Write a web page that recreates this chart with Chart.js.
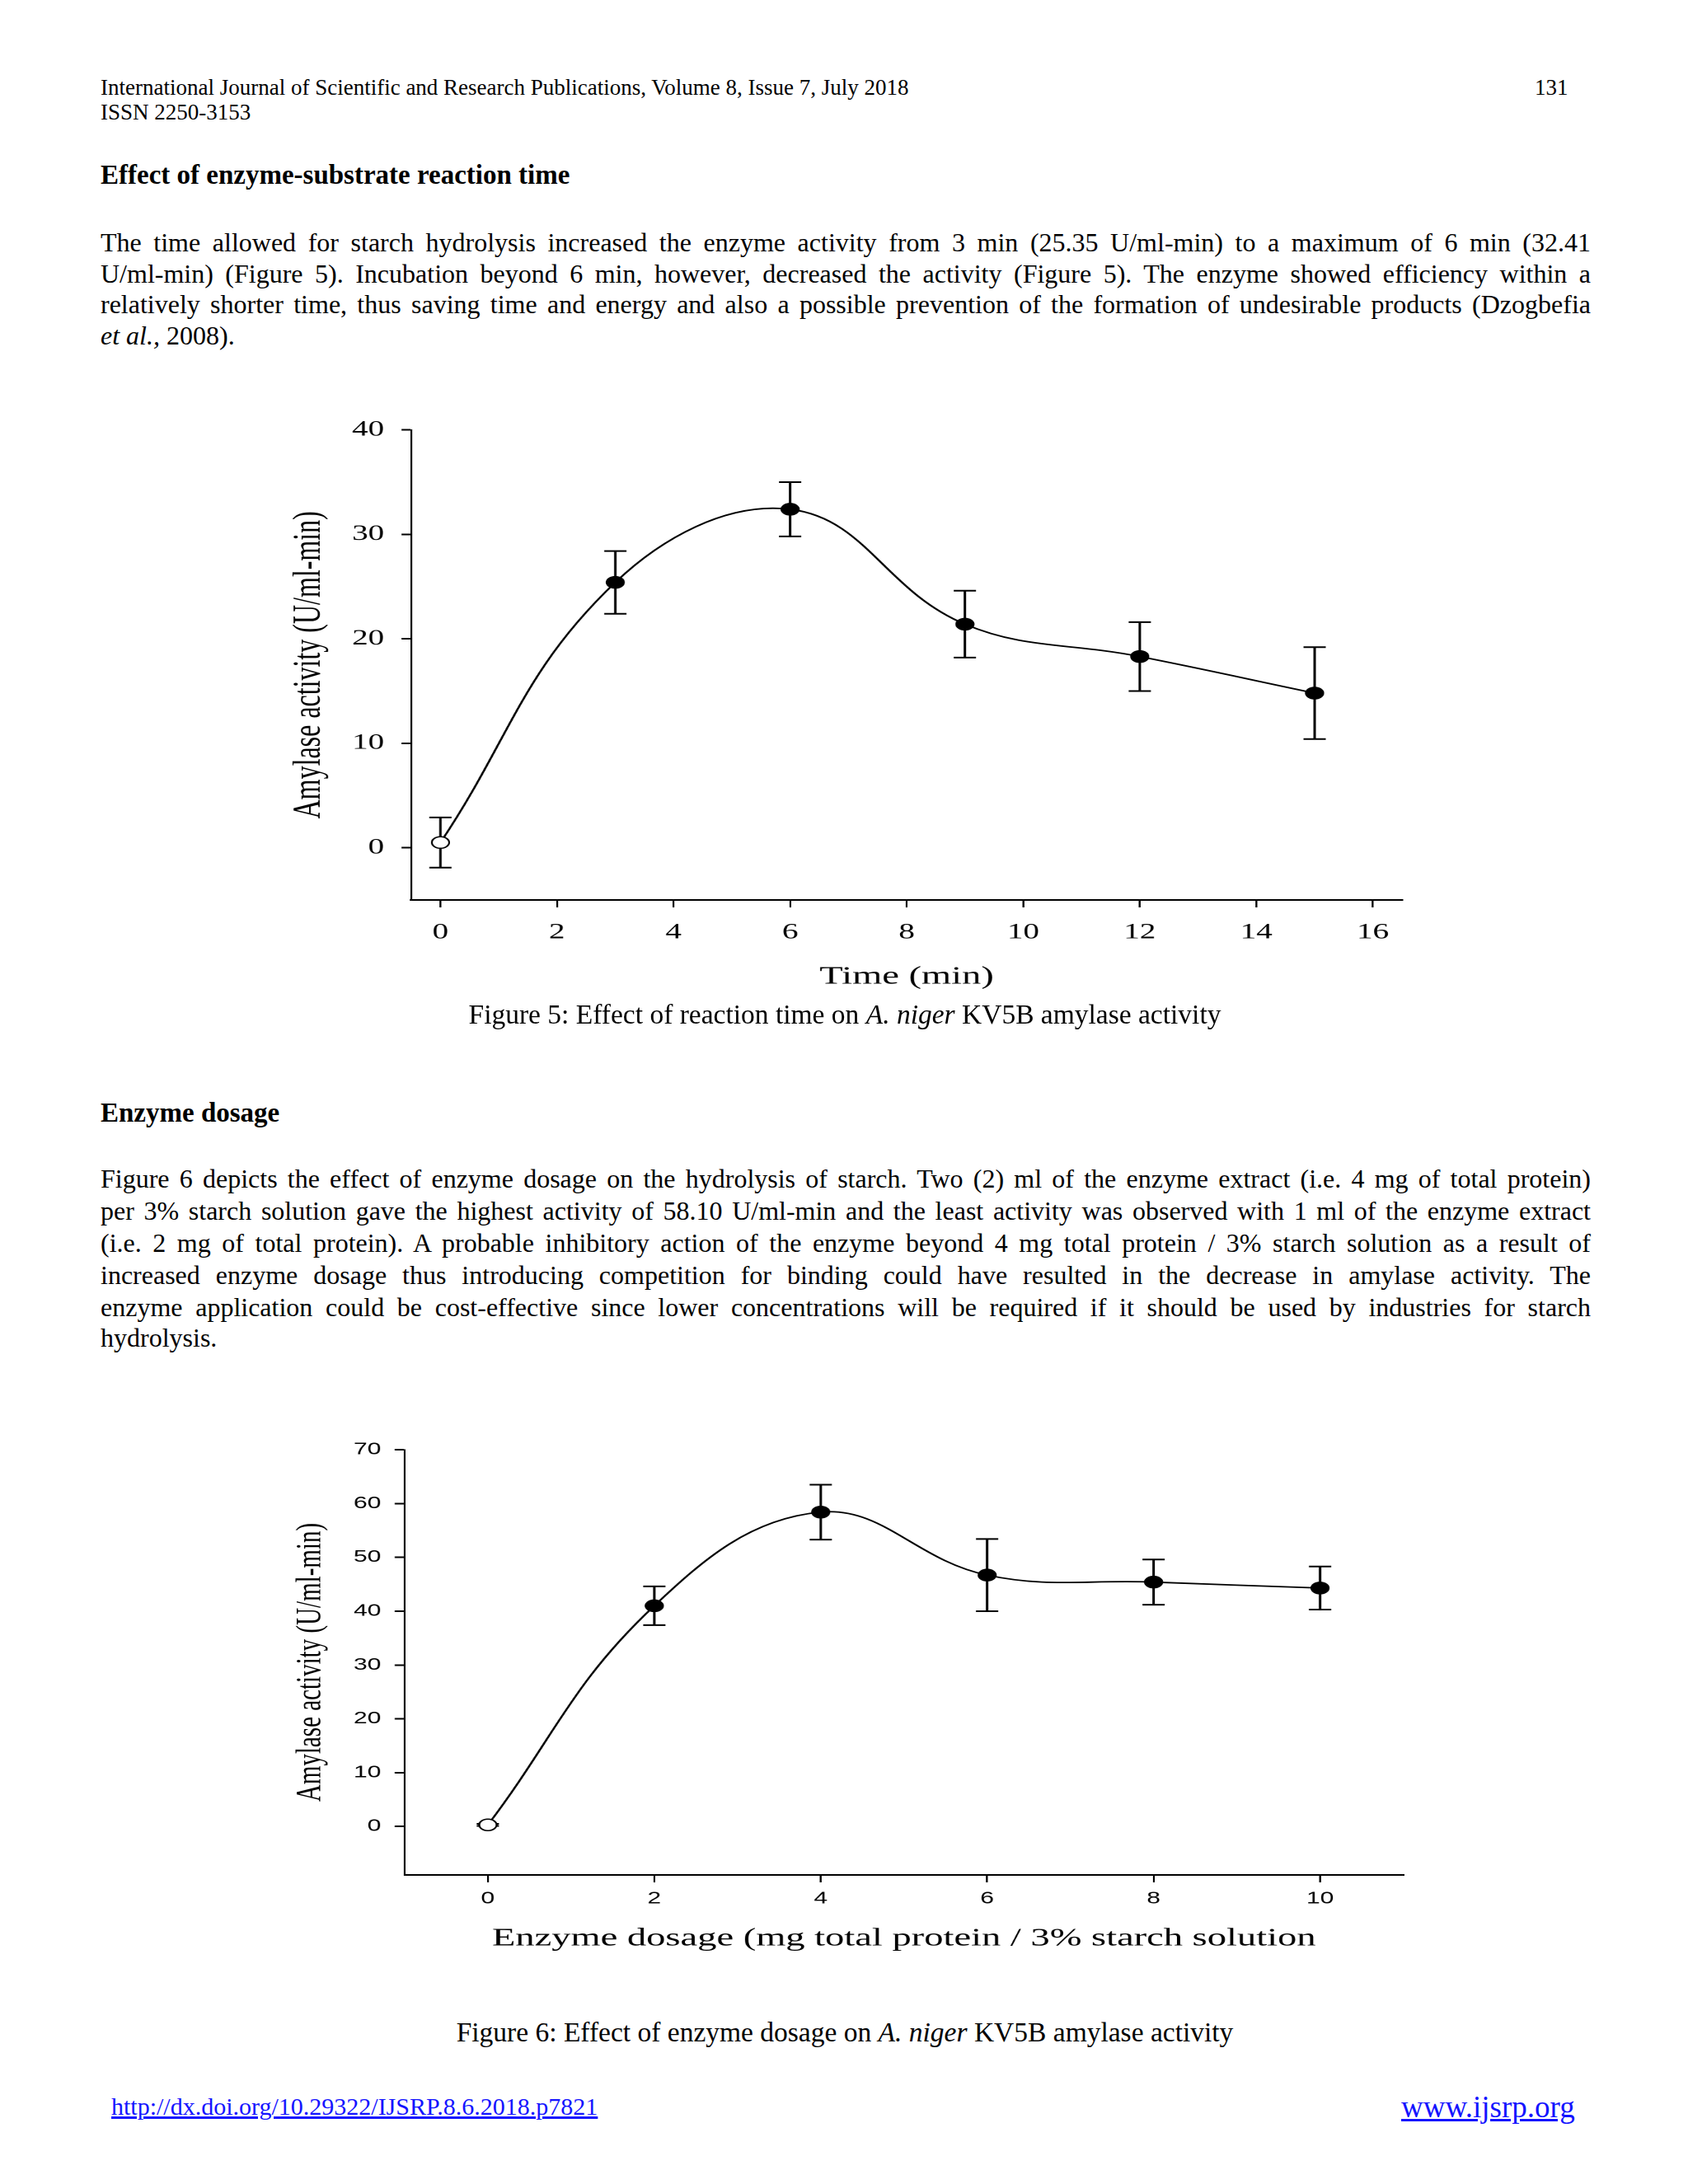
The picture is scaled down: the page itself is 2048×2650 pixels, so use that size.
<!DOCTYPE html>
<html>
<head>
<meta charset="utf-8">
<script src="https://cdn.jsdelivr.net/npm/chart.js@4.4.1/dist/chart.umd.min.js"></script>
<style>
  body { margin: 0; width: 2048px; height: 2650px; position: relative; background: #fff;
         font-family: "Liberation Serif", "Times New Roman", serif; color: #000; }
  .t { position: absolute; line-height: 1; white-space: nowrap; }
  .ln { position: absolute; left: 122px; width: 1808px; font-size: 32px; line-height: 1;
        text-align: justify; text-align-last: justify; }
  .ln.last { text-align-last: left; }
  .cap { position: absolute; left: 0; width: 2050px; text-align: center; font-size: 33.5px; line-height: 1; }
  .plot { position: absolute; transform: scaleX(1.5); transform-origin: 0 0; }
  a { color: #1414ff; }
</style>
</head>
<body>

<div class="t" style="left:122px; top:93px; font-size:27px;">International Journal of Scientific and Research Publications, Volume 8, Issue 7, July 2018</div>
<div class="t" style="left:1862px; top:93px; font-size:27px;">131</div>
<div class="t" style="left:122px; top:123px; font-size:27px;">ISSN 2250-3153</div>

<div class="t" style="left:122px; top:196px; font-size:33px; font-weight:bold;">Effect of enzyme-substrate reaction time</div>

<div class="ln" style="top:278px;">The time allowed for starch hydrolysis increased the enzyme activity from 3 min (25.35 U/ml-min) to a maximum of 6 min (32.41</div>
<div class="ln" style="top:316px;">U/ml-min) (Figure 5). Incubation beyond 6 min, however, decreased the activity (Figure 5). The enzyme showed efficiency within a</div>
<div class="ln" style="top:353px;">relatively shorter time, thus saving time and energy and also a possible prevention of the formation of undesirable products (Dzogbefia</div>
<div class="ln last" style="top:391px;"><i>et al.,</i> 2008).</div>

<div class="plot" style="left:330px; top:492px; width:929px; height:725px;"><canvas id="timeChart"></canvas></div>
<div class="cap" style="top:1214px;">Figure 5: Effect of reaction time on <i>A. niger</i> KV5B amylase activity</div>

<div class="t" style="left:122px; top:1334px; font-size:33px; font-weight:bold;">Enzyme dosage</div>

<div class="ln" style="top:1414px;">Figure 6 depicts the effect of enzyme dosage on the hydrolysis of starch. Two (2) ml of the enzyme extract (i.e. 4 mg of total protein)</div>
<div class="ln" style="top:1453px;">per 3% starch solution gave the highest activity of 58.10 U/ml-min and the least activity was observed with 1 ml of the enzyme extract</div>
<div class="ln" style="top:1492px;">(i.e. 2 mg of total protein). A probable inhibitory action of the enzyme beyond 4 mg total protein / 3% starch solution as a result of</div>
<div class="ln" style="top:1531px;">increased enzyme dosage thus introducing competition for binding could have resulted in the decrease in amylase activity. The</div>
<div class="ln" style="top:1570px;">enzyme application could be cost-effective since lower concentrations will be required if it should be used by industries for starch</div>
<div class="ln last" style="top:1607px;">hydrolysis.</div>

<div class="plot" style="left:330px; top:1736px; width:930px; height:664px;"><canvas id="dosageChart"></canvas></div>
<div class="cap" style="top:2449px;">Figure 6: Effect of enzyme dosage on <i>A. niger</i> KV5B amylase activity</div>

<div class="t" style="left:135px; top:2541px; font-size:30px;"><a href="#">http://dx.doi.org/10.29322/IJSRP.8.6.2018.p7821</a></div>
<div class="t" style="left:1700px; top:2538px; font-size:37px;"><a href="#">www.ijsrp.org</a></div>

<script>
// Figure 5: reaction time
const timeMin = [0, 3, 6, 9, 12, 15];
const timeActivity = [0.5, 25.4, 32.4, 21.4, 18.3, 14.8];
const timeError = [2.4, 3.0, 2.6, 3.2, 3.3, 4.4];
const timeXTicks = [0, 2, 4, 6, 8, 10, 12, 14, 16];
const timeYTicks = [0, 10, 20, 30, 40];

// Figure 6: enzyme dosage
const dosage = [0, 2, 4, 6, 8, 10];
const dosageActivity = [0.3, 41.0, 58.4, 46.7, 45.4, 44.3];
const dosageError = [0.2, 3.6, 5.1, 6.7, 4.2, 4.0];
const dosageXTicks = [0, 2, 4, 6, 8, 10];
const dosageYTicks = [0, 10, 20, 30, 40, 50, 60, 70];

// draws the +/- bars with caps, under the points
const errorBars = {
  id: 'errorBars',
  beforeDatasetsDraw(chart, args, opts) {
    const ctx = chart.ctx;
    const xs = chart.scales.x, ys = chart.scales.y;
    const ds = chart.data.datasets[0];
    ctx.save();
    ctx.strokeStyle = '#000';
    ctx.lineWidth = 2;
    ds.data.forEach((p, i) => {
      const px = xs.getPixelForValue(p.x);
      const top = ys.getPixelForValue(p.y + ds.errors[i]);
      const bot = ys.getPixelForValue(p.y - ds.errors[i]);
      ctx.beginPath();
      ctx.moveTo(px, top); ctx.lineTo(px, bot);
      ctx.moveTo(px - opts.cap, top); ctx.lineTo(px + opts.cap, top);
      ctx.moveTo(px - opts.cap, bot); ctx.lineTo(px + opts.cap, bot);
      ctx.stroke();
    });
    ctx.restore();
  }
};

function makeChart(id, xs, ys, errs, s) {
  const ctx = document.getElementById(id).getContext('2d');
  return new Chart(ctx, {
    type: 'line',
    data: {
      datasets: [{
        data: xs.map((x, i) => ({ x: x, y: ys[i] })),
        errors: errs,
        borderColor: '#000',
        borderWidth: 1.8,
        tension: 0.4,
        fill: false,
        pointRadius: 7,
        pointBorderWidth: 1.5,
        pointBorderColor: '#000',
        pointBackgroundColor: xs.map((x, i) => i === 0 ? '#fff' : '#000')
      }]
    },
    options: {
      responsive: true,
      maintainAspectRatio: false,
      animation: false,
      devicePixelRatio: 2,
      layout: { padding: { top: 0, right: 15, left: 0, bottom: 0 } },
      plugins: {
        legend: { display: false },
        tooltip: { enabled: false },
        errorBars: { cap: 9 }
      },
      scales: {
        x: {
          type: 'linear',
          min: s.xMin, max: s.xMax,
          afterBuildTicks: sc => { sc.ticks = s.xTicks.map(v => ({ value: v })); },
          afterFit: sc => { sc.height = 125; },
          grid: { drawOnChartArea: false, drawTicks: true, tickLength: 9, color: '#000', lineWidth: 1.5 },
          border: { display: true, color: '#000', width: 2 },
          ticks: { color: '#000', font: s.tickFont, padding: s.xPad, maxRotation: 0 },
          title: { display: true, text: s.xTitle, color: '#000',
                   font: { family: 'Liberation Serif', size: 31 },
                   padding: { top: 0, bottom: s.xTitlePad } }
        },
        y: {
          min: s.yMin, max: s.yMax,
          afterBuildTicks: sc => { sc.ticks = s.yTicks.map(v => ({ value: v })); },
          afterFit: sc => { sc.width = s.yWidth; },
          grid: { drawOnChartArea: false, drawTicks: true, tickLength: 8, color: '#000', lineWidth: 2 },
          border: { display: true, color: '#000', width: 1.5 },
          ticks: { color: '#000', font: s.tickFont, padding: s.yPad },
          title: { display: true, text: 'Amylase activity (U/ml-min)', color: '#000',
                   font: { family: 'Liberation Serif', size: s.yTitleSize },
                   padding: { top: s.yTitlePad, bottom: 0 } }
        }
      }
    },
    plugins: [errorBars]
  });
}

makeChart('timeChart', timeMin, timeActivity, timeError, {
  xMin: -0.5, xMax: 16.5, yMin: -5, yMax: 40,
  xTicks: timeXTicks, yTicks: timeYTicks,
  tickFont: { family: 'Liberation Serif', size: 26 },
  xPad: 15, yPad: 14, yWidth: 112.7,
  xTitle: 'Time (min)', xTitlePad: 13,
  yTitleSize: 32, yTitlePad: 11
});

makeChart('dosageChart', dosage, dosageActivity, dosageError, {
  xMin: -1, xMax: 11, yMin: -9, yMax: 70,
  xTicks: dosageXTicks, yTicks: dosageYTicks,
  tickFont: { family: 'Liberation Sans', size: 20 },
  xPad: 8, yPad: 11, yWidth: 107.3,
  xTitle: 'Enzyme dosage (mg total protein / 3% starch solution', xTitlePad: 29,
  yTitleSize: 29, yTitlePad: 14
});
</script>
</body>
</html>
